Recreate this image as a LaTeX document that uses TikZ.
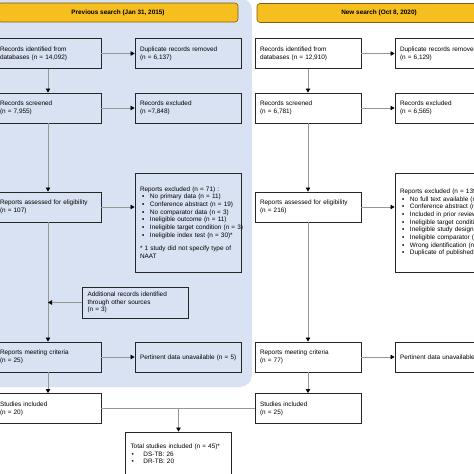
\documentclass[tikz,border=0pt]{standalone}
\usepackage{fontspec}
\setmainfont{Liberation Sans}
\usetikzlibrary{arrows.meta}

\definecolor{prevblue}{RGB}{217,226,243}
\definecolor{bargold}{RGB}{246,190,30}
\definecolor{barline}{RGB}{120,95,20}
\definecolor{linkgray}{RGB}{150,150,150}

\newcommand{\fs}{\fontsize{6.4pt}{7.7pt}\selectfont}
\newcommand{\sqitem}[1]{\mbox{\hspace*{2pt}\makebox[8pt][l]{▪}#1}}
\newcommand{\dotitem}[1]{\mbox{\hspace*{1pt}\makebox[12pt][l]{•}#1}}

\tikzset{
  box/.style={draw=black!85, line width=0.9pt, text width=96pt, inner xsep=5pt, inner ysep=3pt, minimum height=30pt, align=left, font=\fs},
  hdr/.style={draw=barline, fill=bargold, line width=0.6pt, rounded corners=3pt, minimum height=19pt, font=\fs\bfseries},
  arr/.style={draw=linkgray, line width=0.7pt, -{Triangle[length=4pt,width=4.5pt,color=black]}},
  link/.style={draw=linkgray, line width=0.7pt}
}

\begin{document}
\begin{tikzpicture}[x=1pt,y=-1pt]
    \useasboundingbox (0,0) rectangle (474,474);
    \clip (0,0) rectangle (474,474);

    % shaded area for the first search
    \fill[prevblue, rounded corners=12pt] (-20,-2) rectangle (252,387);

    \node[hdr, minimum width=240pt] (prevhdr) at (118,12.5) {Previous search (Jan 31, 2015)};
    \node[hdr, minimum width=244pt] (newhdr) at (379,13) {New search (Oct 8, 2020)};

    % previous search
    \node[box] (pid) at (48,53.5) {Records identified from\\databases (n = 14,092)};
    \node[box] (pdup) at (188,53.5) {Duplicate records removed\\(n = 6,137)};
    \node[box] (pscr) at (48,108) {Records screened\\(n = 7,955)};
    \node[box] (pexc) at (188,108) {Records excluded\\(n =7,848)};
    \node[box] (pass) at (48,207) {Reports assessed for eligibility\\(n = 107)};
    \node[box, minimum height=99pt] (prep) at (188,222.5) {Reports excluded (n = 71) :\\
        \sqitem{No primary data (n = 11)}\\
        \sqitem{Conference abstract (n = 19)}\\
        \sqitem{No comparator data (n = 3)}\\
        \sqitem{Ineligible outcome (n = 11)}\\
        \sqitem{Ineligible target condition (n = 3)}\\
        \sqitem{Ineligible index test (n = 30)*}\\[6pt]
        * 1 study did not specify type of\\NAAT};
    \node[box, minimum height=31pt] (padd) at (135.5,302.5) {Additional records identified\\through other sources\\(n = 3)};
    \node[box] (pmeet) at (48,357) {Reports meeting criteria\\(n = 25)};
    \node[box] (ppert) at (188,357.5) {\mbox{Pertinent data unavailable (n = 5)}};
    \node[box] (pinc) at (48,408.5) {Studies included\\(n = 20)};

    % new search
    \node[box] (nid) at (308,53.5) {Records identified from\\databases (n = 12,910)};
    \node[box] (ndup) at (448,53.5) {Duplicate records removed\\(n = 6,129)};
    \node[box] (nscr) at (308,108) {Records screened\\(n = 6,781)};
    \node[box] (nexc) at (448,108) {Records excluded\\(n = 6,565)};
    \node[box] (nass) at (308,207) {Reports assessed for eligibility\\(n = 216)};
    \node[box, minimum height=99pt] (nrep) at (448,222.5) {\mbox{Reports excluded (n = 139}\\
        \sqitem{No full text available (n}\\
        \sqitem{Conference abstract (n}\\
        \sqitem{Included in prior review}\\
        \sqitem{Ineligible target condition}\\
        \sqitem{Ineligible study design}\\
        \sqitem{Ineligible comparator (n}\\
        \sqitem{Wrong identification (n}\\
        \sqitem{Duplicate of published}};
    \node[box] (nmeet) at (308,357) {Reports meeting criteria\\(n = 77)};
    \node[box] (npert) at (448,357.5) {\mbox{Pertinent data unavailable}};
    \node[box] (ninc) at (308,408.5) {Studies included\\(n = 25)};

    \node[box, minimum height=44pt] (total) at (178.5,454) {Total studies included (n = 45)*\\
        \dotitem{DS-TB: 26}\\
        \dotitem{DR-TB: 20}};

    % connectors
    \draw[arr] (pid.east) -- (pdup.west);
    \draw[arr] (pid) -- (pscr);
    \draw[arr] (pscr.east) -- (pexc.west);
    \draw[arr] (pscr) -- (pass);
    \draw[arr] (pass.east) -- (pass.east -| prep.west);
    \draw[arr] (pass) -- (pmeet);
    \draw[arr] (padd.west) -- (padd.west -| pass.south);
    \draw[arr] (pmeet.east) -- (pmeet.east -| ppert.west);
    \draw[arr] (pmeet) -- (pinc);

    \draw[arr] (nid.east) -- (ndup.west);
    \draw[arr] (nid) -- (nscr);
    \draw[arr] (nscr.east) -- (nexc.west);
    \draw[arr] (nscr) -- (nass);
    \draw[arr] (nass.east) -- (nass.east -| nrep.west);
    \draw[arr] (nass) -- (nmeet);
    \draw[arr] (nmeet.east) -- (nmeet.east -| npert.west);
    \draw[arr] (nmeet) -- (ninc);

    \draw[link] (pinc.east) -- (ninc.west);
    \draw[arr] (total.north |- pinc.east) -- (total.north);
\end{tikzpicture}
\end{document}
